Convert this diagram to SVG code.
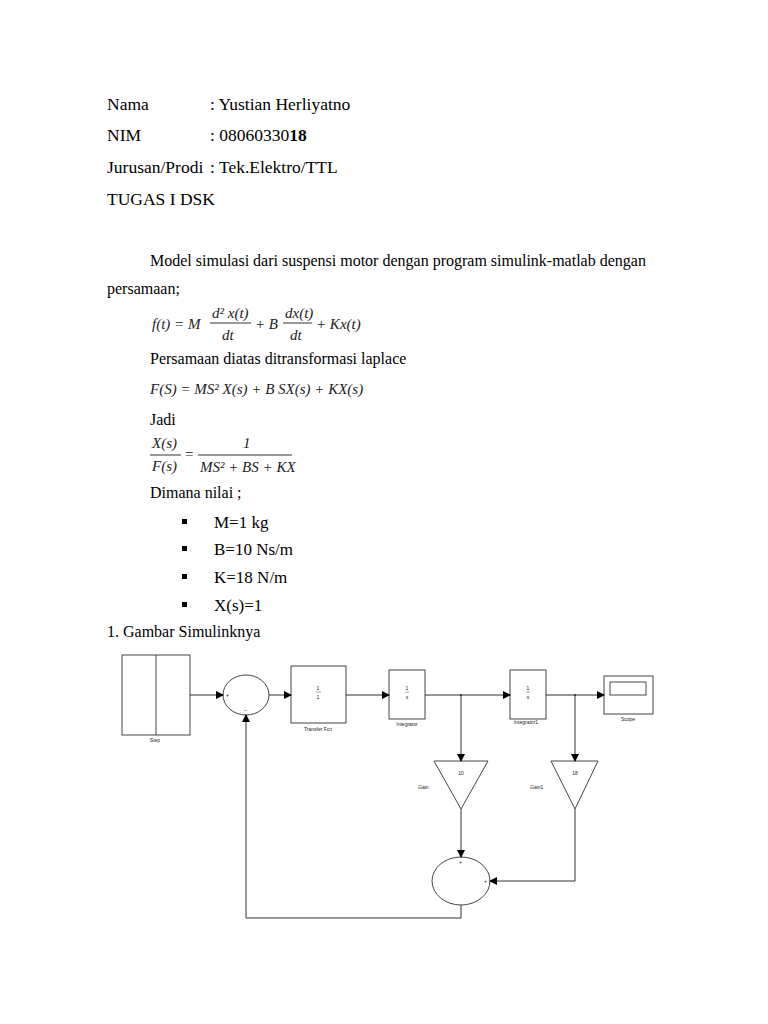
<svg xmlns="http://www.w3.org/2000/svg" width="768" height="1024" viewBox="0 0 768 1024">
<defs>
<marker id="a" markerWidth="8" markerHeight="8" refX="7" refY="4" orient="auto" markerUnits="userSpaceOnUse"><path d="M0,0 L8,4 L0,8 Z" fill="#000"/></marker>
<style>
.t{font-family:"Liberation Serif",serif;font-size:17px;fill:#000}
.h{font-family:"Liberation Serif",serif;font-size:17.5px;fill:#000}
.p{font-family:"Liberation Serif",serif;font-size:16px;fill:#000}
.m{font-family:"Liberation Serif",serif;font-size:15px;font-style:italic;fill:#222}
.s{font-family:"Liberation Sans",sans-serif;font-size:5px;fill:#222}
.b{fill:#fff;stroke:#444;stroke-width:1}
.c{fill:none;stroke:#333;stroke-width:1;marker-end:url(#a)}
.l{fill:none;stroke:#333;stroke-width:1}
</style>
</defs>
<rect width="768" height="1024" fill="#fff"/>
<g id="header">
<text class="h" x="107" y="110">Nama</text><text class="h" x="210" y="110">: Yustian Herliyatno</text>
<text class="h" x="107" y="141">NIM</text><text class="h" x="210" y="141">: 08060330<tspan font-weight="bold">18</tspan></text>
<text class="h" x="107" y="173">Jurusan/Prodi</text><text class="h" x="210" y="173">: Tek.Elektro/TTL</text>
<text class="h" x="107" y="205">TUGAS I DSK</text>
<text class="p" x="150" y="266">Model simulasi dari suspensi motor dengan program simulink-matlab dengan</text>
<text class="p" x="107" y="294">persamaan;</text>
</g>
<g id="equations">
<text class="m" x="152" y="329">f(t) = M</text>
<text class="m" x="212" y="318" font-size="13">d² x(t)</text>
<line x1="210" y1="323" x2="251" y2="323" stroke="#333"/>
<text class="m" x="222" y="340" font-size="13">dt</text>
<text class="m" x="255" y="329">+ B</text>
<text class="m" x="285" y="318" font-size="13">dx(t)</text>
<line x1="283" y1="323" x2="312" y2="323" stroke="#333"/>
<text class="m" x="290" y="340" font-size="13">dt</text>
<text class="m" x="316" y="329">+ Kx(t)</text>
<text class="p" x="150" y="364">Persamaan diatas ditransformasi laplace</text>
<text class="m" x="150" y="394">F(S) = MS² X(s) + B SX(s) + KX(s)</text>
<text class="p" x="150" y="425">Jadi</text>
<text class="m" x="152" y="448">X(s)</text>
<line x1="150" y1="455" x2="181" y2="455" stroke="#333"/>
<text class="m" x="152" y="471">F(s)</text>
<text class="m" x="184" y="459">=</text>
<text class="m" x="243" y="448">1</text>
<line x1="198" y1="455" x2="292" y2="455" stroke="#333"/>
<text class="m" x="200" y="472">MS² + BS + KX</text>
<text class="p" x="150" y="498">Dimana nilai ;</text>
<g fill="#000"><rect x="182" y="519" width="5" height="5"/><rect x="182" y="546" width="5" height="5"/><rect x="182" y="574" width="5" height="5"/><rect x="182" y="602" width="5" height="5"/></g>
<text class="t" x="214" y="528">M=1 kg</text>
<text class="t" x="214" y="555">B=10 Ns/m</text>
<text class="t" x="214" y="583">K=18 N/m</text>
<text class="t" x="214" y="611">X(s)=1</text>
<text class="p" x="107" y="637">1. Gambar Simulinknya</text>
</g>
<g id="step"><rect class="b" x="122" y="655" width="68" height="80"/><line x1="156" y1="655" x2="156" y2="735" stroke="#444"/><text class="s" x="155" y="742" text-anchor="middle">Step</text></g>
<g id="sum1"><ellipse class="b" cx="246" cy="695" rx="23" ry="20"/><text class="s" x="226" y="697">+</text><text class="s" x="244" y="712">−</text></g>
<g id="tf"><rect class="b" x="291" y="666" width="55" height="57"/><text class="s" x="318" y="690" text-anchor="middle">1</text><line x1="316" y1="692" x2="321" y2="692" stroke="#444" stroke-width="0.5"/><text class="s" x="318" y="699" text-anchor="middle">1</text><text class="s" x="318" y="731" text-anchor="middle">Transfer Fcn</text></g>
<g id="int"><rect class="b" x="389" y="670" width="36" height="49"/><text class="s" x="407" y="690" text-anchor="middle">1</text><line x1="405" y1="692" x2="409" y2="692" stroke="#444" stroke-width="0.5"/><text class="s" x="407" y="699" text-anchor="middle">s</text><text class="s" x="407" y="726" text-anchor="middle">Integrator</text></g>
<g id="int1"><rect class="b" x="510" y="670" width="36" height="49"/><text class="s" x="528" y="690" text-anchor="middle">1</text><line x1="526" y1="692" x2="530" y2="692" stroke="#444" stroke-width="0.5"/><text class="s" x="528" y="699" text-anchor="middle">s</text><text class="s" x="526" y="724" text-anchor="middle">Integrator1</text></g>
<g id="scope"><rect class="b" x="604" y="676" width="49" height="38"/><rect class="b" x="610" y="682" width="36" height="13"/><text class="s" x="628" y="721" text-anchor="middle">Scope</text></g>
<g id="gain"><path class="b" d="M434,761 L488,761 L461,809 Z"/><text class="s" x="461" y="775" text-anchor="middle">10</text><text class="s" x="418" y="789">Gain</text></g>
<g id="gain1"><path class="b" d="M551,761 L598,761 L575,809 Z"/><text class="s" x="575" y="775" text-anchor="middle">18</text><text class="s" x="530" y="789">Gain1</text></g>
<g id="sum2"><ellipse class="b" cx="461" cy="881" rx="29" ry="24"/><text class="s" x="459" y="864">+</text><text class="s" x="484" y="883">+</text></g>
<g id="connectors">
<path class="c" d="M190,695 L223,695"/>
<path class="c" d="M269,695 L291,695"/>
<path class="c" d="M346,695 L389,695"/>
<path class="c" d="M425,695 L510,695"/>
<path class="c" d="M546,695 L604,695"/>
<circle cx="461" cy="695" r="1" fill="#333"/><circle cx="575" cy="695" r="1" fill="#333"/>
<path class="c" d="M461,695 L461,761"/>
<path class="c" d="M575,695 L575,761"/>
<path class="c" d="M461,809 L461,857"/>
<path class="c" d="M575,809 L575,881 L490,881"/>
<path class="c" d="M461,905 L461,918 L246,918 L246,715"/>
</g>
</svg>
